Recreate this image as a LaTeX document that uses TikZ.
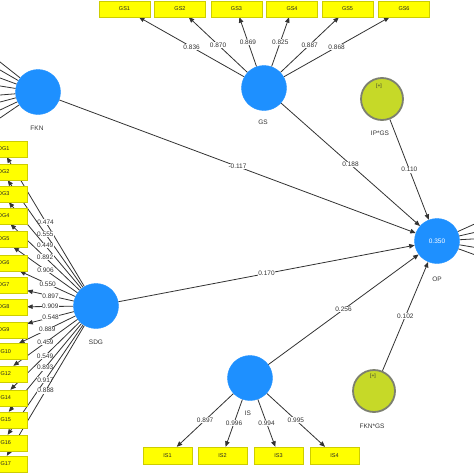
\documentclass[tikz,border=0pt]{standalone}
\usepackage{fontspec}
\setmainfont{Liberation Sans}
\usetikzlibrary{arrows.meta}
\pgfdeclarelayer{bg}
\pgfsetlayers{bg,main}
\definecolor{plsblue}{RGB}{30,144,255}
\definecolor{plsyellow}{RGB}{255,255,0}
\definecolor{indborder}{RGB}{205,205,0}
\definecolor{intgreen}{RGB}{198,217,40}
\definecolor{intborder}{RGB}{125,128,112}
\definecolor{linegray}{RGB}{50,50,50}
\begin{document}
\begin{tikzpicture}[x=1pt,y=-1pt,
  latent/.style={circle, fill=plsblue, draw=plsblue, minimum size=45pt, inner sep=0pt, text=white, font=\fontsize{6.5}{7}\selectfont},
  inter/.style={circle, fill=intgreen, draw=intborder, line width=1.8pt, minimum size=42pt, inner sep=0pt},
  ind/.style={rectangle, fill=plsyellow, draw=indborder, line width=0.4pt, minimum width=50pt, minimum height=16pt, inner sep=0pt, font=\fontsize{5.5}{6}\selectfont, text=black!85},
  lname/.style={font=\fontsize{6.5}{7}\selectfont, text=black!80},
  plus/.style={font=\fontsize{5}{6}\selectfont, text=black!80, inner sep=0pt},
  conn/.style={draw=linegray, line width=0.8pt, -{Triangle[length=5.5pt,width=4.5pt]}},
  wt/.style={fill=white, inner sep=0.6pt, font=\fontsize{6.5}{7}\selectfont, text=black!80},
]
\useasboundingbox (0,0) rectangle (474,474);
\clip (0,0) rectangle (474,474);

% latent variables
\node[latent] (FKN) at (38,92) {};
\node[latent] (GS) at (264,88) {};
\node[latent] (SDG) at (96,306) {};
\node[latent] (IS) at (250,378) {};
\node[latent] (OP) at (437,241) {0.350};
\node[inter] (IPGS) at (382,99) {};
\node[inter] (FKNGS) at (374,391) {};
\node[plus] (IPGSp) at (379,86) {[+]};
\node[plus] (FKNGSp) at (373,376) {[+]};

% latent labels
\node[lname] (FKNl) at (37,128) {FKN};
\node[lname] (GSl) at (263,122) {GS};
\node[lname] (SDGl) at (96,342) {SDG};
\node[lname] (ISl) at (248,413) {IS};
\node[lname] (OPl) at (437,279) {OP};
\node[lname] (IPGSl) at (380,133) {IP*GS};
\node[lname] (FKNGSl) at (372,426) {FKN*GS};

% GS indicators
\foreach \n/\x in {1/124.5,2/180,3/236.5,4/292,5/347.5,6/404}
  \node[ind, minimum width=51pt] (gs\n) at (\x,9) {GS\n};
% IS indicators
\foreach \n/\x in {1/167.5,2/222.5,3/278.5,4/334.5}
  \node[ind, minimum width=49pt, minimum height=17pt] (is\n) at (\x,455.5) {IS\n};
% SDG indicators
\foreach \n/\y in {1/149,2/172,3/194,4/216,5/239,6/263,7/285,8/307,9/330,10/351.5,12/374,14/398,15/420,16/443,17/464}
  \node[ind] (sdg\n) at (2,\y) {SDG\n};

% off-picture ends of FKN and OP indicator lines
\foreach \k/\y in {1/46.2,2/58.4,3/70.6,4/82.8,5/96.6,6/107.3,7/119.5,8/131.7}
  \coordinate (fk\k) at (-20,\y);
\foreach \k/\y in {1/217,2/228.9,3/238,4/250,5/260.3}
  \coordinate (op\k) at (490,\y);

\begin{pgfonlayer}{bg}
\clip (0,0) rectangle (474,474);
\foreach \k in {1,...,8} \draw[conn] (FKN) -- (fk\k);
\foreach \k in {1,...,5} \draw[conn] (OP) -- (op\k);
\foreach \n/\w in {1/0.836,2/0.870,3/0.869,4/0.825,5/0.887,6/0.868}
  \draw[conn] (GS) -- node[wt] {\w} (gs\n);
\foreach \n/\w in {1/0.897,2/0.996,3/0.994,4/0.995}
  \draw[conn] (IS) -- node[wt] {\w} (is\n);
\foreach \n/\w in {1/0.474,2/0.555,3/0.449,4/0.892,5/0.906,6/0.550,7/0.897,8/0.909,9/0.548,10/0.889,12/0.459,14/0.549,15/0.893,16/0.917,17/0.888}
  \draw[conn] (SDG) -- node[wt] {\w} (sdg\n);
% structural paths
\draw[conn] (FKN) -- node[wt] {-0.117} (OP);
\draw[conn] (GS) -- node[wt] {0.188} (OP);
\draw[conn] (SDG) -- node[wt] {0.170} (OP);
\draw[conn] (IS) -- node[wt] {0.256} (OP);
\draw[conn] (IPGS) -- node[wt] {0.110} (OP);
\draw[conn] (FKNGS) -- node[wt] {0.102} (OP);
\end{pgfonlayer}
\end{tikzpicture}
\end{document}
